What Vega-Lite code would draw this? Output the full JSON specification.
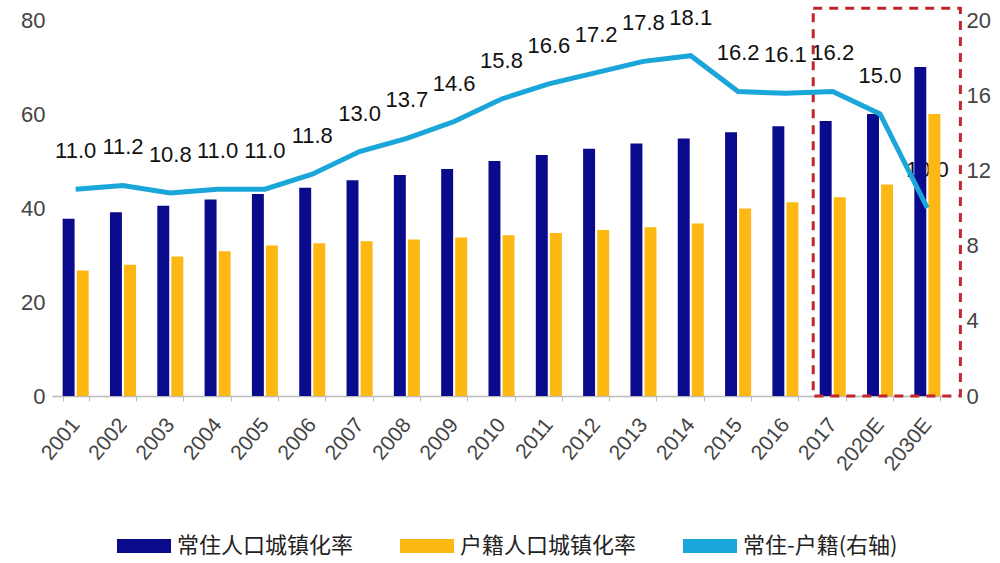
{
  "$schema": "https://vega.github.io/schema/vega-lite/v6.json",
  "width": 899,
  "height": 376,
  "autosize": {"type": "none"},
  "padding": {"left": 52, "top": 20, "right": 49, "bottom": 167},
  "background": "white",
  "config": {
    "view": {"stroke": null},
    "font": "Liberation Sans",
    "axis": {"titleFontSize": 0}
  },
  "datasets": {
    "bars": [
      {"year": "2001", "series": "常住人口城镇化率", "value": 37.7},
      {"year": "2002", "series": "常住人口城镇化率", "value": 39.1},
      {"year": "2003", "series": "常住人口城镇化率", "value": 40.5},
      {"year": "2004", "series": "常住人口城镇化率", "value": 41.8},
      {"year": "2005", "series": "常住人口城镇化率", "value": 43.0},
      {"year": "2006", "series": "常住人口城镇化率", "value": 44.3},
      {"year": "2007", "series": "常住人口城镇化率", "value": 45.9},
      {"year": "2008", "series": "常住人口城镇化率", "value": 47.0},
      {"year": "2009", "series": "常住人口城镇化率", "value": 48.3},
      {"year": "2010", "series": "常住人口城镇化率", "value": 50.0},
      {"year": "2011", "series": "常住人口城镇化率", "value": 51.3},
      {"year": "2012", "series": "常住人口城镇化率", "value": 52.6},
      {"year": "2013", "series": "常住人口城镇化率", "value": 53.7},
      {"year": "2014", "series": "常住人口城镇化率", "value": 54.8},
      {"year": "2015", "series": "常住人口城镇化率", "value": 56.1},
      {"year": "2016", "series": "常住人口城镇化率", "value": 57.4},
      {"year": "2017", "series": "常住人口城镇化率", "value": 58.5},
      {"year": "2020E", "series": "常住人口城镇化率", "value": 60.0},
      {"year": "2030E", "series": "常住人口城镇化率", "value": 70.0},
      {"year": "2001", "series": "户籍人口城镇化率", "value": 26.7},
      {"year": "2002", "series": "户籍人口城镇化率", "value": 27.9},
      {"year": "2003", "series": "户籍人口城镇化率", "value": 29.7},
      {"year": "2004", "series": "户籍人口城镇化率", "value": 30.8},
      {"year": "2005", "series": "户籍人口城镇化率", "value": 32.0},
      {"year": "2006", "series": "户籍人口城镇化率", "value": 32.5},
      {"year": "2007", "series": "户籍人口城镇化率", "value": 32.9},
      {"year": "2008", "series": "户籍人口城镇化率", "value": 33.3},
      {"year": "2009", "series": "户籍人口城镇化率", "value": 33.7},
      {"year": "2010", "series": "户籍人口城镇化率", "value": 34.2},
      {"year": "2011", "series": "户籍人口城镇化率", "value": 34.7},
      {"year": "2012", "series": "户籍人口城镇化率", "value": 35.3},
      {"year": "2013", "series": "户籍人口城镇化率", "value": 35.9},
      {"year": "2014", "series": "户籍人口城镇化率", "value": 36.7},
      {"year": "2015", "series": "户籍人口城镇化率", "value": 39.9},
      {"year": "2016", "series": "户籍人口城镇化率", "value": 41.2},
      {"year": "2017", "series": "户籍人口城镇化率", "value": 42.3},
      {"year": "2020E", "series": "户籍人口城镇化率", "value": 45.0},
      {"year": "2030E", "series": "户籍人口城镇化率", "value": 60.0}
    ],
    "gap": [
      {"year": "2001", "gap": 11.0},
      {"year": "2002", "gap": 11.2},
      {"year": "2003", "gap": 10.8},
      {"year": "2004", "gap": 11.0},
      {"year": "2005", "gap": 11.0},
      {"year": "2006", "gap": 11.8},
      {"year": "2007", "gap": 13.0},
      {"year": "2008", "gap": 13.7},
      {"year": "2009", "gap": 14.6},
      {"year": "2010", "gap": 15.8},
      {"year": "2011", "gap": 16.6},
      {"year": "2012", "gap": 17.2},
      {"year": "2013", "gap": 17.8},
      {"year": "2014", "gap": 18.1},
      {"year": "2015", "gap": 16.2},
      {"year": "2016", "gap": 16.1},
      {"year": "2017", "gap": 16.2},
      {"year": "2020E", "gap": 15.0},
      {"year": "2030E", "gap": 10.0}
    ],
    "box": [{"start": "2017", "end": "2030E"}]
  },
  "layer": [
    {
      "data": {"name": "gap"},
      "mark": {"type": "text", "dy": -38, "fontSize": 22, "color": "#111", "baseline": "middle"},
      "encoding": {
        "x": {"field": "year", "type": "nominal", "sort": null},
        "y": {"field": "gap", "type": "quantitative", "scale": {"domain": [0, 20], "nice": false}, "axis": null},
        "text": {"field": "gap", "type": "quantitative", "format": ".1f"}
      }
    },
    {
      "layer": [
        {
          "data": {"name": "bars"},
          "mark": {"type": "bar"},
          "encoding": {
            "x": {
              "field": "year", "type": "nominal", "sort": null,
              "scale": {"paddingInner": 0.45, "paddingOuter": 0.225},
              "axis": {
                "title": null, "labelAngle": -50, "labelFontSize": 21, "labelColor": "#444",
                "domainColor": "#bbb", "domainWidth": 1.5, "tickColor": "#bbb", "tickSize": 5,
                "tickBand": "extent", "labelPadding": 20
              }
            },
            "xOffset": {"field": "series", "type": "nominal", "scale": {"paddingInner": 0.15}},
            "y": {
              "field": "value", "type": "quantitative",
              "scale": {"domain": [0, 80], "nice": false},
              "axis": {
                "title": null, "orient": "left", "values": [0, 20, 40, 60, 80],
                "domain": false, "ticks": false, "grid": false,
                "labelFontSize": 22, "labelColor": "#444", "labelPadding": 7
              }
            },
            "color": {
              "field": "series", "type": "nominal",
              "scale": {
                "domain": ["常住人口城镇化率", "户籍人口城镇化率", "常住-户籍(右轴)"],
                "range": ["#0A0A8C", "#FDB813", "#1BA6DA"]
              },
              "legend": {
                "title": null, "orient": "none", "legendX": 65, "legendY": 499,
                "direction": "horizontal", "columns": 3, "columnPadding": 46,
                "symbolType": "M-1,-0.26H1V0.26H-1Z", "symbolSize": 2916,
                "labelFont": "Noto Sans CJK SC", "labelFontSize": 22, "labelColor": "#222",
                "labelOffset": 6, "padding": 0, "symbolStrokeWidth": 0,
                "labelLimit": 300
              }
            }
          }
        },
        {
          "data": {"name": "box"},
          "mark": {"type": "rect", "fill": null, "stroke": "#C1272D", "strokeWidth": 3, "strokeDash": [9, 7]},
          "encoding": {
            "x": {"field": "start", "type": "nominal", "bandPosition": -0.25},
            "x2": {"field": "end", "bandPosition": 1.77},
            "y": {"datum": 82.5},
            "y2": {"datum": 0}
          }
        }
      ]
    },
    {
      "data": {"name": "gap"},
      "mark": {"type": "line", "strokeWidth": 5, "color": "#1BA6DA"},
      "encoding": {
        "x": {"field": "year", "type": "nominal", "sort": null},
        "y": {
          "field": "gap", "type": "quantitative",
          "scale": {"domain": [0, 20], "nice": false},
          "axis": {
            "title": null, "orient": "right", "values": [0, 4, 8, 12, 16, 20],
            "domain": false, "ticks": false, "grid": false,
            "labelFontSize": 22, "labelColor": "#444", "labelPadding": 15
          }
        },
        "color": {"datum": "常住-户籍(右轴)"}
      }
    }
  ],
  "resolve": {"scale": {"y": "independent"}}
}
